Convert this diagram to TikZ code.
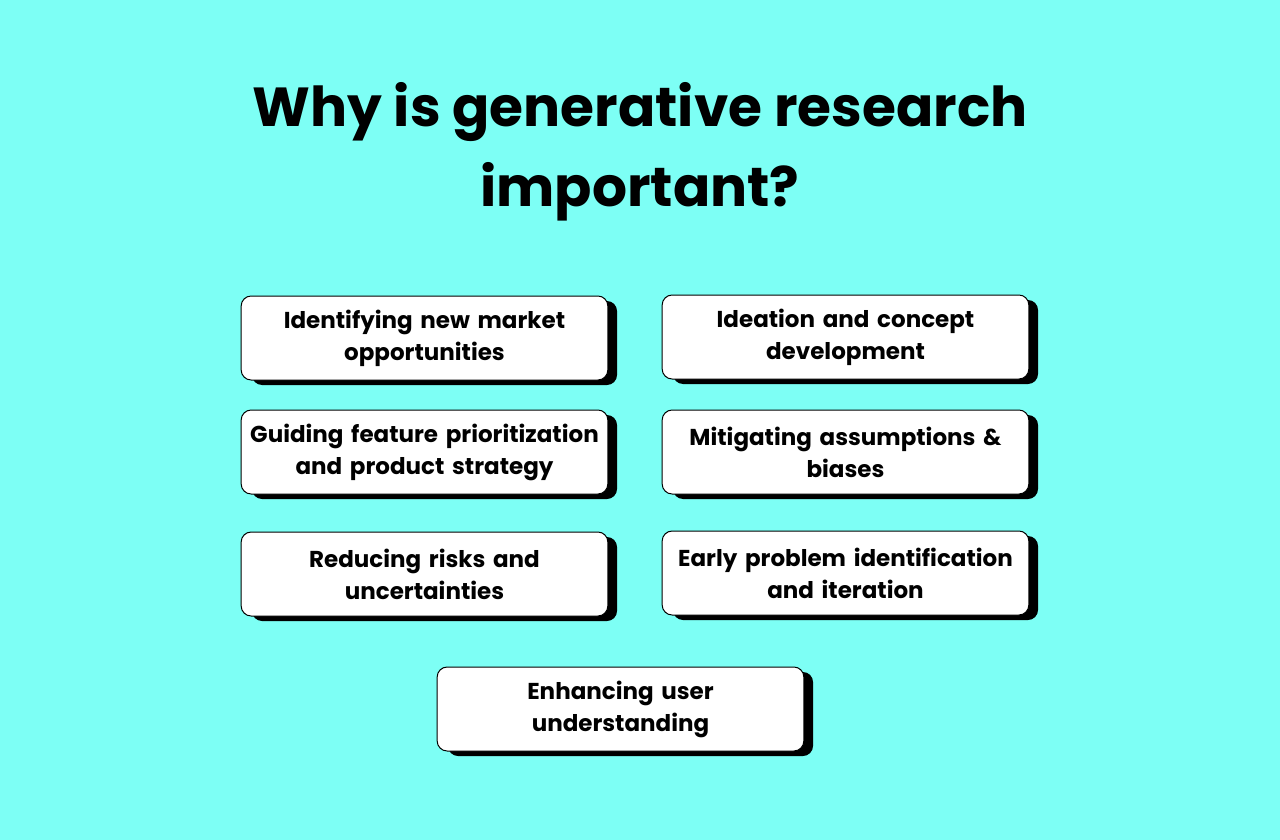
\documentclass[tikz,border=0pt]{standalone}
\usepackage{fontspec}
\setmainfont{Poppins}[UprightFont=* SemiBold, BoldFont=* Bold]
\definecolor{bg}{RGB}{125,255,245}
\begin{document}
\begin{tikzpicture}[x=1pt,y=-1pt,
  card/.style={draw=black,line width=1pt,fill=white,rounded corners=10pt,minimum width=365pt,minimum height=84pt,text width=360pt,align=center,font=\bfseries\fontsize{23}{32}\selectfont},
  shadowbox/.style={fill=black,rounded corners=10pt,minimum width=365pt,minimum height=84pt}]
\fill[bg] (0,0) rectangle (1280,840);
\useasboundingbox (0,0) rectangle (1280,840);
\node[font=\bfseries\fontsize{55}{80}\selectfont,align=center] (title) at (640,152) {Why is generative research\\important?};
\foreach \n/\x/\y/\t in {a/424.5/338/{Identifying new market\\opportunities},
  b/845.5/337/{Ideation and concept\\development},
  c/424.5/452/{Guiding feature prioritization\\and product strategy},
  d/845.5/452/{Mitigating assumptions \&\\biases},
  e/424.5/574/{Reducing risks and\\uncertainties},
  f/845.5/573/{Early problem identification\\and iteration},
  g/620.5/709/{Enhancing user\\understanding}}{
  \node[shadowbox] (s\n) at (\x+10,\y+5) {};
  \node[card] (\n) at (\x,\y) {\t};
}
\end{tikzpicture}
\end{document}
